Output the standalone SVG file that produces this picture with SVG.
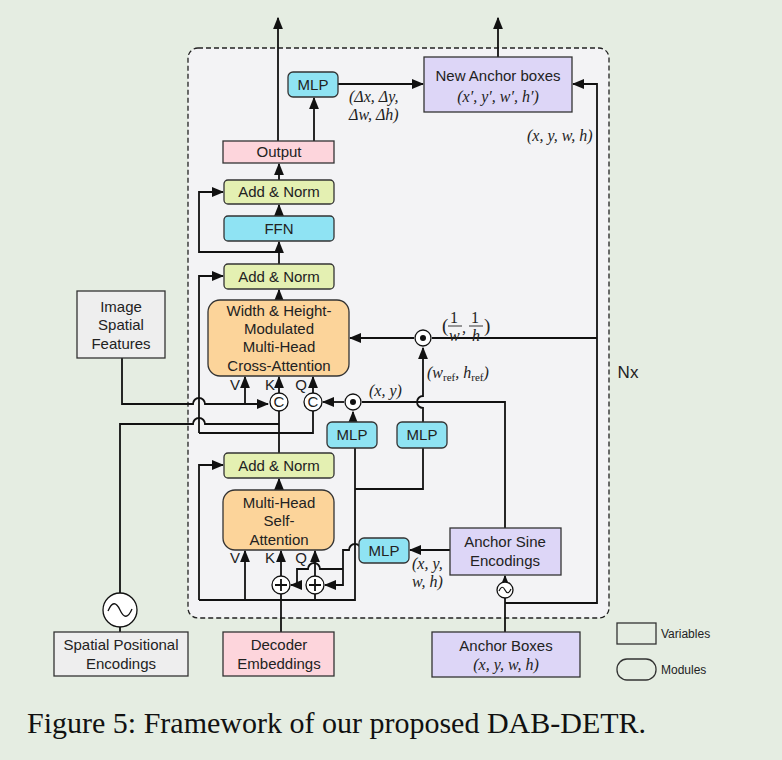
<svg xmlns="http://www.w3.org/2000/svg" width="782" height="760" viewBox="0 0 782 760">
<defs>
<marker id="a" viewBox="0 0 10 10" refX="9" refY="5" markerWidth="7" markerHeight="7" orient="auto"><path d="M0,1 L10,5 L0,9 z" fill="#111"/></marker>
<style>
.b{stroke:#333;stroke-width:1.3}
.t{font-family:"Liberation Sans",Arial,sans-serif;font-size:15px;fill:#222;text-anchor:middle}
.l{font-family:"Liberation Sans",Arial,sans-serif;font-size:12px;fill:#222}
.m{font-family:"Liberation Serif","DejaVu Serif",serif;font-style:italic;font-size:16px;fill:#222}
.c{fill:none;stroke:#111;stroke-width:1.8}
.ca{fill:none;stroke:#111;stroke-width:1.8;marker-end:url(#a)}
.o{fill:#fff;stroke:#111;stroke-width:1.3}
</style>
</defs>
<rect width="782" height="760" fill="#e5ede2"/>
<rect x="188" y="48" width="421" height="570" rx="10" fill="#f3f3f5" stroke="#222" stroke-width="1.3" stroke-dasharray="5,3"/>
<g id="connectors">
<path class="ca" d="M278,141 V18"/>
<path class="ca" d="M314,141 V98"/>
<path class="ca" d="M338,84 H423"/>
<path class="ca" d="M498,57 V18"/>
<path class="ca" d="M505,603 H597 V84 H573"/>
<path class="ca" d="M279,180 V164"/>
<path class="ca" d="M279,216 V205"/>
<path class="ca" d="M279,264 V242"/>
<path class="ca" d="M279,252 H199 V192 H223"/>
<path class="ca" d="M279,300 V290"/>
<path class="ca" d="M199,433 V276 H223"/>
<path class="c" d="M199,433 H313 V411"/>
<path class="c" d="M279,453 V411"/>
<path class="ca" d="M122,358 V404 H193 a6,6 0 0 1 12,0 H268"/>
<path class="c" d="M120,593 V424 H193 a6,6 0 0 1 12,0 H279"/>
<path class="ca" d="M245,404 V377"/>
<path class="ca" d="M279,393 V377"/>
<path class="ca" d="M313,393 V377"/>
<path class="ca" d="M344,402 H323"/>
<path class="c" d="M505,528 V402 H362"/>
<path class="ca" d="M423,422 V408 a6,6 0 0 1 0,-12 V348"/>
<path class="ca" d="M353,422 V412"/>
<path class="c" d="M597,338 H432"/>
<path class="ca" d="M414,338 H350"/>
<path class="ca" d="M279,490 V479"/>
<path class="ca" d="M199,600 V465 H223"/>
<path class="c" d="M199,600 H355 V448"/>
<path class="c" d="M423,448 V489 H355"/>
<path class="ca" d="M245,600 V551"/>
<path class="ca" d="M450,550 H410"/>
<path class="ca" d="M359,550 H361 a6,6 0 0 0 -12,0 H343 V585 H325"/>
<path class="ca" d="M343,569 H320 a6,6 0 0 0 -12,0 H297 V585 H291"/>
<path class="ca" d="M281,576 V551"/>
<path class="ca" d="M315,576 V551"/>
<path class="c" d="M281,632 V594"/>
<path class="c" d="M315,600 V594"/>
<path class="c" d="M505,632 V598"/>
<path class="ca" d="M505,582 V576"/>
<path class="c" d="M120,632 V627"/>
</g>
<g id="ops">
<circle class="o" cx="279" cy="402" r="9"/><text class="t" x="279" y="407">C</text>
<circle class="o" cx="313" cy="402" r="9"/><text class="t" x="313" y="407">C</text>
<circle class="o" cx="353" cy="402" r="8"/><circle cx="353" cy="402" r="3" fill="#111"/>
<circle class="o" cx="423" cy="338" r="8"/><circle cx="423" cy="338" r="3" fill="#111"/>
<circle class="o" cx="281" cy="585" r="9"/><path class="c" d="M275,585 H287 M281,579 V591" stroke-width="1.2"/>
<circle class="o" cx="315" cy="585" r="9"/><path class="c" d="M309,585 H321 M315,579 V591" stroke-width="1.2"/>
<circle class="o" cx="505" cy="590" r="8"/><path d="M499,591 q3,-7 6,-1 q3,6 6,-1" fill="none" stroke="#111" stroke-width="1.2"/>
<circle class="o" cx="120" cy="610" r="17"/><path d="M108,611 q6,-14 12,-1 q6,13 12,-1" fill="none" stroke="#111" stroke-width="1.3"/>
</g>
<g id="mlp-top"><rect class="b" x="288" y="72" width="50" height="25" rx="5" fill="#8fe3f3"/><text class="t" x="313" y="90">MLP</text></g>
<g id="new-anchor"><rect class="b" x="424" y="57" width="148" height="55" fill="#ddd6f7"/><text class="t" x="498" y="81">New Anchor boxes</text><text class="m" x="498" y="102" text-anchor="middle">(x′, y′, w′, h′)</text></g>
<g id="output"><rect class="b" x="223" y="141" width="111" height="22" fill="#fdd5dc"/><text class="t" x="279" y="157">Output</text></g>
<g id="addnorm1"><rect class="b" x="224" y="180" width="110" height="24" rx="4" fill="#e4f0b2"/><text class="t" x="279" y="197">Add &amp; Norm</text></g>
<g id="ffn"><rect class="b" x="224" y="216" width="110" height="25" rx="4" fill="#8fe3f3"/><text class="t" x="279" y="234">FFN</text></g>
<g id="addnorm2"><rect class="b" x="224" y="264" width="110" height="25" rx="4" fill="#e4f0b2"/><text class="t" x="279" y="282">Add &amp; Norm</text></g>
<g id="cross-attn"><rect class="b" x="208" y="300" width="141" height="76" rx="12" fill="#fcd49a"/><text class="t" x="279" y="316">Width &amp; Height-</text><text class="t" x="279" y="334">Modulated</text><text class="t" x="279" y="352">Multi-Head</text><text class="t" x="279" y="371">Cross-Attention</text></g>
<g id="image-feat"><rect class="b" x="77" y="291" width="88" height="67" fill="#eeeeee"/><text class="t" x="121" y="312">Image</text><text class="t" x="121" y="330">Spatial</text><text class="t" x="121" y="349">Features</text></g>
<g id="mlp-l"><rect class="b" x="327" y="422" width="50" height="26" rx="5" fill="#8fe3f3"/><text class="t" x="352" y="440">MLP</text></g>
<g id="mlp-r"><rect class="b" x="397" y="422" width="50" height="26" rx="5" fill="#8fe3f3"/><text class="t" x="422" y="440">MLP</text></g>
<g id="addnorm3"><rect class="b" x="224" y="453" width="110" height="25" rx="4" fill="#e4f0b2"/><text class="t" x="279" y="471">Add &amp; Norm</text></g>
<g id="self-attn"><rect class="b" x="223" y="490" width="111" height="60" rx="12" fill="#fcd49a"/><text class="t" x="279" y="508">Multi-Head</text><text class="t" x="279" y="526">Self-</text><text class="t" x="279" y="545">Attention</text></g>
<g id="mlp-s"><rect class="b" x="359" y="538" width="50" height="25" rx="5" fill="#8fe3f3"/><text class="t" x="384" y="556">MLP</text></g>
<g id="anchor-sine"><rect class="b" x="450" y="528" width="111" height="47" fill="#ddd6f7"/><text class="t" x="505" y="547">Anchor Sine</text><text class="t" x="505" y="566">Encodings</text></g>
<g id="spatial-pos"><rect class="b" x="54" y="632" width="134" height="44" fill="#eeeeee"/><text class="t" x="121" y="650">Spatial Positional</text><text class="t" x="121" y="669">Encodings</text></g>
<g id="decoder-emb"><rect class="b" x="223" y="632" width="111" height="44" fill="#fdd5dc"/><text class="t" x="279" y="650">Decoder</text><text class="t" x="279" y="669">Embeddings</text></g>
<g id="anchor-boxes"><rect class="b" x="432" y="632" width="148" height="45" fill="#ddd6f7"/><text class="t" x="506" y="651">Anchor Boxes</text><text class="m" x="506" y="670" text-anchor="middle">(x, y, w, h)</text></g>
<g id="legend"><rect class="b" x="617" y="623" width="39" height="21" fill="none"/><text class="l" x="661" y="638">Variables</text><rect class="b" x="617" y="659" width="39" height="21" rx="10" fill="none"/><text class="l" x="661" y="674">Modules</text></g>
<g id="labels">
<text class="t" x="235" y="390">V</text><text class="t" x="270" y="390">K</text><text class="t" x="301" y="390">Q</text>
<text class="t" x="235" y="563">V</text><text class="t" x="270" y="563">K</text><text class="t" x="301" y="563">Q</text>
<text class="m" x="349" y="102">(Δx, Δy,</text><text class="m" x="349" y="120">Δw, Δh)</text>
<text class="m" x="527" y="141">(x, y, w, h)</text>
<text class="m" x="442" y="332" style="font-size:19px;font-style:normal">(</text><text class="m" x="450" y="323" style="font-style:normal">1</text><path d="M448,326 H462 M469,326 H483" stroke="#222" stroke-width="0.9"/><text class="m" x="449" y="341">w</text><text class="m" x="462" y="333">,</text><text class="m" x="471" y="323" style="font-style:normal">1</text><text class="m" x="472" y="341">h</text><text class="m" x="484" y="332" style="font-size:19px;font-style:normal">)</text>
<text class="m" x="427" y="378">(w<tspan font-size="11" font-style="normal" dy="3">ref</tspan><tspan dy="-3">, h</tspan><tspan font-size="11" font-style="normal" dy="3">ref</tspan><tspan dy="-3">)</tspan></text>
<text class="m" x="369" y="396">(x, y)</text>
<text class="m" x="412" y="569">(x, y,</text><text class="m" x="412" y="587">w, h)</text>
<text class="t" x="628" y="378" style="font-size:17px">Nx</text>
</g>
<text x="27" y="733" style="font-family:'Liberation Serif','Times New Roman',serif;font-size:30px;fill:#111">Figure 5: Framework of our proposed DAB-DETR.</text>
</svg>
